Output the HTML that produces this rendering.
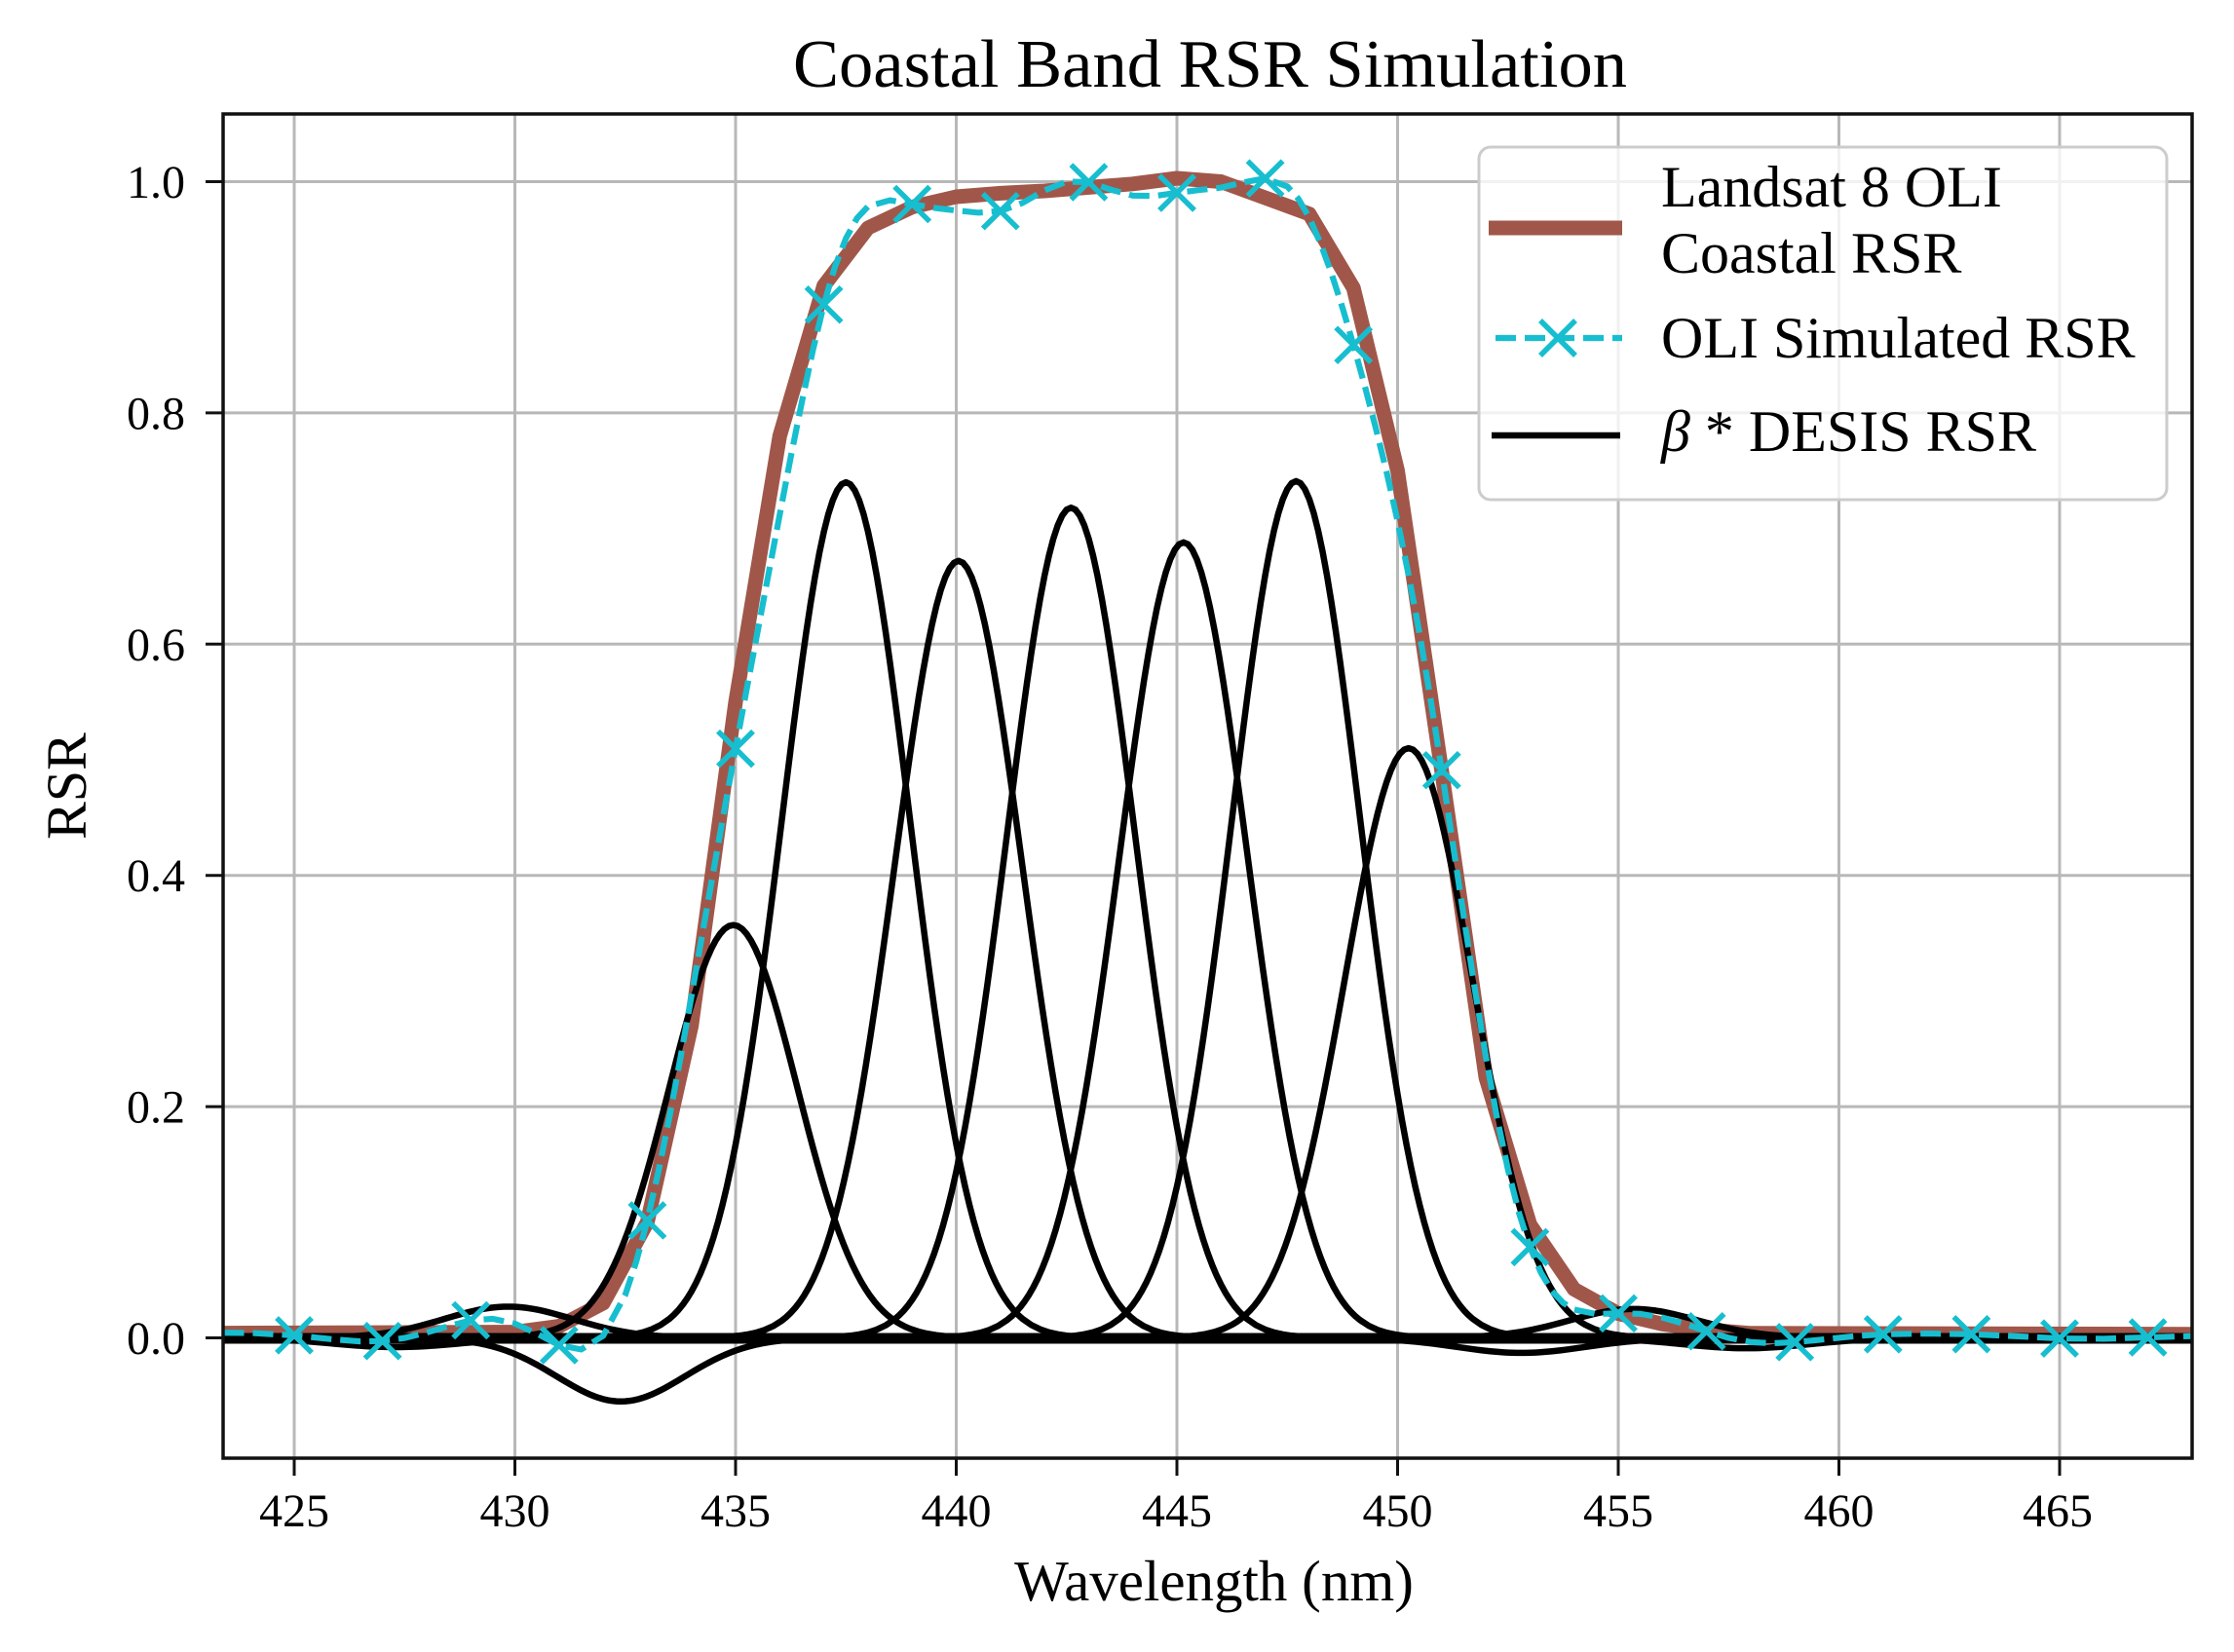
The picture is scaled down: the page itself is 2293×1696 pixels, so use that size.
<!DOCTYPE html>
<html>
<head>
<meta charset="utf-8">
<style>
html,body{margin:0;padding:0;background:#fff;}
svg{display:block;}
text{font-family:"Liberation Serif","Times New Roman",serif;fill:#000;}
</style>
</head>
<body>
<svg width="2293" height="1696" viewBox="0 0 2293 1696" xmlns="http://www.w3.org/2000/svg">
<rect x="0" y="0" width="2293" height="1696" fill="#fff"/>
<defs>
<clipPath id="clip"><rect x="229" y="117" width="2021" height="1380"/></clipPath>
</defs>

<!-- grid -->
<g stroke="#b8b8b8" stroke-width="3" clip-path="url(#clip)">
<line x1="302" y1="117" x2="302" y2="1497"/>
<line x1="528.5" y1="117" x2="528.5" y2="1497"/>
<line x1="755" y1="117" x2="755" y2="1497"/>
<line x1="981.5" y1="117" x2="981.5" y2="1497"/>
<line x1="1208" y1="117" x2="1208" y2="1497"/>
<line x1="1434.5" y1="117" x2="1434.5" y2="1497"/>
<line x1="1661" y1="117" x2="1661" y2="1497"/>
<line x1="1887.5" y1="117" x2="1887.5" y2="1497"/>
<line x1="2114" y1="117" x2="2114" y2="1497"/>
<line x1="229" y1="1373.5" x2="2250" y2="1373.5"/>
<line x1="229" y1="1136.1" x2="2250" y2="1136.1"/>
<line x1="229" y1="898.7" x2="2250" y2="898.7"/>
<line x1="229" y1="661.3" x2="2250" y2="661.3"/>
<line x1="229" y1="423.9" x2="2250" y2="423.9"/>
<line x1="229" y1="186.5" x2="2250" y2="186.5"/>
</g>

<g clip-path="url(#clip)">
<!-- Landsat brown -->
<path fill="none" stroke="#a0574a" stroke-width="15" stroke-linejoin="round" d="M166.1,1368.8L528.5,1367.6L573.8,1361.6L619.1,1337.9L664.4,1254.8L709.7,1053L755,720.7L800.3,447.6L845.6,293.3L890.9,234L936.2,212.6L981.5,202L1026.8,198.4L1072.1,196L1117.4,192.4L1162.7,188.8L1208,183L1253.3,186.5L1298.6,203.1L1343.9,219.7L1389.2,295.7L1434.5,483.3L1479.8,791.9L1525.1,1106.4L1570.4,1257.2L1615.7,1323.6L1661,1348.6L1706.3,1359.3L1751.6,1365.2L1796.9,1368.8L2340.5,1369.9"/>

<!-- zero band -->
<line x1="229" y1="1374" x2="2250" y2="1374" stroke="#000" stroke-width="11"/>

<!-- DESIS gaussians -->
<g fill="none" stroke="#000" stroke-width="6.5" stroke-linejoin="round">
<path vector-effect="non-scaling-stroke" transform="translate(406.2,1373.5) scale(45.3,9.496)" d="M-60,0L-7,0L-6,.0002L-5.6,.0006L-5.3,.0013L-5,.0026L-4.8,.0042L-4.6,.0065L-4.4,.01L-4.2,.0151L-4,.0223L-3.9,.0269L-3.8,.0323L-3.7,.0386L-3.6,.0459L-3.5,.0543L-3.4,.064L-3.3,.075L-3.2,.0876L-3.1,.1017L-3,.1176L-2.9,.1353L-2.8,.155L-2.7,.1766L-2.6,.2004L-2.5,.2262L-2.4,.2541L-2.3,.2842L-2.2,.3163L-2.1,.3504L-2,.3863L-1.9,.4238L-1.8,.4628L-1.7,.5029L-1.6,.544L-1.5,.5856L-1.4,.6275L-1.3,.6691L-1.2,.71L-1.1,.7499L-1,.7883L-.9,.8248L-.8,.8588L-.7,.89L-.6,.918L-.5,.9423L-.4,.9627L-.3,.9788L-.2,.9905L-.1,.9976L0,1L.1,.9976L.2,.9905L.3,.9788L.4,.9627L.5,.9423L.6,.918L.7,.89L.8,.8588L.9,.8248L1,.7883L1.1,.7499L1.2,.71L1.3,.6691L1.4,.6275L1.5,.5856L1.6,.544L1.7,.5029L1.8,.4628L1.9,.4238L2,.3863L2.1,.3504L2.2,.3163L2.3,.2842L2.4,.2541L2.5,.2262L2.6,.2004L2.7,.1766L2.8,.155L2.9,.1353L3,.1176L3.1,.1017L3.2,.0876L3.3,.075L3.4,.064L3.5,.0543L3.6,.0459L3.7,.0386L3.8,.0323L3.9,.0269L4,.0223L4.2,.0151L4.4,.01L4.6,.0065L4.8,.0042L5,.0026L5.3,.0013L5.6,.0006L6,.0002L7,0L60,0"/>
<path vector-effect="non-scaling-stroke" transform="translate(521.7,1373.5) scale(45.3,-32.05)" d="M-60,0L-7,0L-6,.0002L-5.6,.0006L-5.3,.0013L-5,.0026L-4.8,.0042L-4.6,.0065L-4.4,.01L-4.2,.0151L-4,.0223L-3.9,.0269L-3.8,.0323L-3.7,.0386L-3.6,.0459L-3.5,.0543L-3.4,.064L-3.3,.075L-3.2,.0876L-3.1,.1017L-3,.1176L-2.9,.1353L-2.8,.155L-2.7,.1766L-2.6,.2004L-2.5,.2262L-2.4,.2541L-2.3,.2842L-2.2,.3163L-2.1,.3504L-2,.3863L-1.9,.4238L-1.8,.4628L-1.7,.5029L-1.6,.544L-1.5,.5856L-1.4,.6275L-1.3,.6691L-1.2,.71L-1.1,.7499L-1,.7883L-.9,.8248L-.8,.8588L-.7,.89L-.6,.918L-.5,.9423L-.4,.9627L-.3,.9788L-.2,.9905L-.1,.9976L0,1L.1,.9976L.2,.9905L.3,.9788L.4,.9627L.5,.9423L.6,.918L.7,.89L.8,.8588L.9,.8248L1,.7883L1.1,.7499L1.2,.71L1.3,.6691L1.4,.6275L1.5,.5856L1.6,.544L1.7,.5029L1.8,.4628L1.9,.4238L2,.3863L2.1,.3504L2.2,.3163L2.3,.2842L2.4,.2541L2.5,.2262L2.6,.2004L2.7,.1766L2.8,.155L2.9,.1353L3,.1176L3.1,.1017L3.2,.0876L3.3,.075L3.4,.064L3.5,.0543L3.6,.0459L3.7,.0386L3.8,.0323L3.9,.0269L4,.0223L4.2,.0151L4.4,.01L4.6,.0065L4.8,.0042L5,.0026L5.3,.0013L5.6,.0006L6,.0002L7,0L60,0"/>
<path vector-effect="non-scaling-stroke" transform="translate(637.2,1373.5) scale(45.3,65.29)" d="M-60,0L-7,0L-6,.0002L-5.6,.0006L-5.3,.0013L-5,.0026L-4.8,.0042L-4.6,.0065L-4.4,.01L-4.2,.0151L-4,.0223L-3.9,.0269L-3.8,.0323L-3.7,.0386L-3.6,.0459L-3.5,.0543L-3.4,.064L-3.3,.075L-3.2,.0876L-3.1,.1017L-3,.1176L-2.9,.1353L-2.8,.155L-2.7,.1766L-2.6,.2004L-2.5,.2262L-2.4,.2541L-2.3,.2842L-2.2,.3163L-2.1,.3504L-2,.3863L-1.9,.4238L-1.8,.4628L-1.7,.5029L-1.6,.544L-1.5,.5856L-1.4,.6275L-1.3,.6691L-1.2,.71L-1.1,.7499L-1,.7883L-.9,.8248L-.8,.8588L-.7,.89L-.6,.918L-.5,.9423L-.4,.9627L-.3,.9788L-.2,.9905L-.1,.9976L0,1L.1,.9976L.2,.9905L.3,.9788L.4,.9627L.5,.9423L.6,.918L.7,.89L.8,.8588L.9,.8248L1,.7883L1.1,.7499L1.2,.71L1.3,.6691L1.4,.6275L1.5,.5856L1.6,.544L1.7,.5029L1.8,.4628L1.9,.4238L2,.3863L2.1,.3504L2.2,.3163L2.3,.2842L2.4,.2541L2.5,.2262L2.6,.2004L2.7,.1766L2.8,.155L2.9,.1353L3,.1176L3.1,.1017L3.2,.0876L3.3,.075L3.4,.064L3.5,.0543L3.6,.0459L3.7,.0386L3.8,.0323L3.9,.0269L4,.0223L4.2,.0151L4.4,.01L4.6,.0065L4.8,.0042L5,.0026L5.3,.0013L5.6,.0006L6,.0002L7,0L60,0"/>
<path vector-effect="non-scaling-stroke" transform="translate(752.7,1373.5) scale(45.3,-423.8)" d="M-60,0L-7,0L-6,.0002L-5.6,.0006L-5.3,.0013L-5,.0026L-4.8,.0042L-4.6,.0065L-4.4,.01L-4.2,.0151L-4,.0223L-3.9,.0269L-3.8,.0323L-3.7,.0386L-3.6,.0459L-3.5,.0543L-3.4,.064L-3.3,.075L-3.2,.0876L-3.1,.1017L-3,.1176L-2.9,.1353L-2.8,.155L-2.7,.1766L-2.6,.2004L-2.5,.2262L-2.4,.2541L-2.3,.2842L-2.2,.3163L-2.1,.3504L-2,.3863L-1.9,.4238L-1.8,.4628L-1.7,.5029L-1.6,.544L-1.5,.5856L-1.4,.6275L-1.3,.6691L-1.2,.71L-1.1,.7499L-1,.7883L-.9,.8248L-.8,.8588L-.7,.89L-.6,.918L-.5,.9423L-.4,.9627L-.3,.9788L-.2,.9905L-.1,.9976L0,1L.1,.9976L.2,.9905L.3,.9788L.4,.9627L.5,.9423L.6,.918L.7,.89L.8,.8588L.9,.8248L1,.7883L1.1,.7499L1.2,.71L1.3,.6691L1.4,.6275L1.5,.5856L1.6,.544L1.7,.5029L1.8,.4628L1.9,.4238L2,.3863L2.1,.3504L2.2,.3163L2.3,.2842L2.4,.2541L2.5,.2262L2.6,.2004L2.7,.1766L2.8,.155L2.9,.1353L3,.1176L3.1,.1017L3.2,.0876L3.3,.075L3.4,.064L3.5,.0543L3.6,.0459L3.7,.0386L3.8,.0323L3.9,.0269L4,.0223L4.2,.0151L4.4,.01L4.6,.0065L4.8,.0042L5,.0026L5.3,.0013L5.6,.0006L6,.0002L7,0L60,0"/>
<path vector-effect="non-scaling-stroke" transform="translate(868.3,1373.5) scale(45.3,-878.4)" d="M-60,0L-7,0L-6,.0002L-5.6,.0006L-5.3,.0013L-5,.0026L-4.8,.0042L-4.6,.0065L-4.4,.01L-4.2,.0151L-4,.0223L-3.9,.0269L-3.8,.0323L-3.7,.0386L-3.6,.0459L-3.5,.0543L-3.4,.064L-3.3,.075L-3.2,.0876L-3.1,.1017L-3,.1176L-2.9,.1353L-2.8,.155L-2.7,.1766L-2.6,.2004L-2.5,.2262L-2.4,.2541L-2.3,.2842L-2.2,.3163L-2.1,.3504L-2,.3863L-1.9,.4238L-1.8,.4628L-1.7,.5029L-1.6,.544L-1.5,.5856L-1.4,.6275L-1.3,.6691L-1.2,.71L-1.1,.7499L-1,.7883L-.9,.8248L-.8,.8588L-.7,.89L-.6,.918L-.5,.9423L-.4,.9627L-.3,.9788L-.2,.9905L-.1,.9976L0,1L.1,.9976L.2,.9905L.3,.9788L.4,.9627L.5,.9423L.6,.918L.7,.89L.8,.8588L.9,.8248L1,.7883L1.1,.7499L1.2,.71L1.3,.6691L1.4,.6275L1.5,.5856L1.6,.544L1.7,.5029L1.8,.4628L1.9,.4238L2,.3863L2.1,.3504L2.2,.3163L2.3,.2842L2.4,.2541L2.5,.2262L2.6,.2004L2.7,.1766L2.8,.155L2.9,.1353L3,.1176L3.1,.1017L3.2,.0876L3.3,.075L3.4,.064L3.5,.0543L3.6,.0459L3.7,.0386L3.8,.0323L3.9,.0269L4,.0223L4.2,.0151L4.4,.01L4.6,.0065L4.8,.0042L5,.0026L5.3,.0013L5.6,.0006L6,.0002L7,0L60,0"/>
<path vector-effect="non-scaling-stroke" transform="translate(983.8,1373.5) scale(45.3,-797.7)" d="M-60,0L-7,0L-6,.0002L-5.6,.0006L-5.3,.0013L-5,.0026L-4.8,.0042L-4.6,.0065L-4.4,.01L-4.2,.0151L-4,.0223L-3.9,.0269L-3.8,.0323L-3.7,.0386L-3.6,.0459L-3.5,.0543L-3.4,.064L-3.3,.075L-3.2,.0876L-3.1,.1017L-3,.1176L-2.9,.1353L-2.8,.155L-2.7,.1766L-2.6,.2004L-2.5,.2262L-2.4,.2541L-2.3,.2842L-2.2,.3163L-2.1,.3504L-2,.3863L-1.9,.4238L-1.8,.4628L-1.7,.5029L-1.6,.544L-1.5,.5856L-1.4,.6275L-1.3,.6691L-1.2,.71L-1.1,.7499L-1,.7883L-.9,.8248L-.8,.8588L-.7,.89L-.6,.918L-.5,.9423L-.4,.9627L-.3,.9788L-.2,.9905L-.1,.9976L0,1L.1,.9976L.2,.9905L.3,.9788L.4,.9627L.5,.9423L.6,.918L.7,.89L.8,.8588L.9,.8248L1,.7883L1.1,.7499L1.2,.71L1.3,.6691L1.4,.6275L1.5,.5856L1.6,.544L1.7,.5029L1.8,.4628L1.9,.4238L2,.3863L2.1,.3504L2.2,.3163L2.3,.2842L2.4,.2541L2.5,.2262L2.6,.2004L2.7,.1766L2.8,.155L2.9,.1353L3,.1176L3.1,.1017L3.2,.0876L3.3,.075L3.4,.064L3.5,.0543L3.6,.0459L3.7,.0386L3.8,.0323L3.9,.0269L4,.0223L4.2,.0151L4.4,.01L4.6,.0065L4.8,.0042L5,.0026L5.3,.0013L5.6,.0006L6,.0002L7,0L60,0"/>
<path vector-effect="non-scaling-stroke" transform="translate(1099.3,1373.5) scale(45.3,-852.3)" d="M-60,0L-7,0L-6,.0002L-5.6,.0006L-5.3,.0013L-5,.0026L-4.8,.0042L-4.6,.0065L-4.4,.01L-4.2,.0151L-4,.0223L-3.9,.0269L-3.8,.0323L-3.7,.0386L-3.6,.0459L-3.5,.0543L-3.4,.064L-3.3,.075L-3.2,.0876L-3.1,.1017L-3,.1176L-2.9,.1353L-2.8,.155L-2.7,.1766L-2.6,.2004L-2.5,.2262L-2.4,.2541L-2.3,.2842L-2.2,.3163L-2.1,.3504L-2,.3863L-1.9,.4238L-1.8,.4628L-1.7,.5029L-1.6,.544L-1.5,.5856L-1.4,.6275L-1.3,.6691L-1.2,.71L-1.1,.7499L-1,.7883L-.9,.8248L-.8,.8588L-.7,.89L-.6,.918L-.5,.9423L-.4,.9627L-.3,.9788L-.2,.9905L-.1,.9976L0,1L.1,.9976L.2,.9905L.3,.9788L.4,.9627L.5,.9423L.6,.918L.7,.89L.8,.8588L.9,.8248L1,.7883L1.1,.7499L1.2,.71L1.3,.6691L1.4,.6275L1.5,.5856L1.6,.544L1.7,.5029L1.8,.4628L1.9,.4238L2,.3863L2.1,.3504L2.2,.3163L2.3,.2842L2.4,.2541L2.5,.2262L2.6,.2004L2.7,.1766L2.8,.155L2.9,.1353L3,.1176L3.1,.1017L3.2,.0876L3.3,.075L3.4,.064L3.5,.0543L3.6,.0459L3.7,.0386L3.8,.0323L3.9,.0269L4,.0223L4.2,.0151L4.4,.01L4.6,.0065L4.8,.0042L5,.0026L5.3,.0013L5.6,.0006L6,.0002L7,0L60,0"/>
<path vector-effect="non-scaling-stroke" transform="translate(1214.8,1373.5) scale(45.3,-816.7)" d="M-60,0L-7,0L-6,.0002L-5.6,.0006L-5.3,.0013L-5,.0026L-4.8,.0042L-4.6,.0065L-4.4,.01L-4.2,.0151L-4,.0223L-3.9,.0269L-3.8,.0323L-3.7,.0386L-3.6,.0459L-3.5,.0543L-3.4,.064L-3.3,.075L-3.2,.0876L-3.1,.1017L-3,.1176L-2.9,.1353L-2.8,.155L-2.7,.1766L-2.6,.2004L-2.5,.2262L-2.4,.2541L-2.3,.2842L-2.2,.3163L-2.1,.3504L-2,.3863L-1.9,.4238L-1.8,.4628L-1.7,.5029L-1.6,.544L-1.5,.5856L-1.4,.6275L-1.3,.6691L-1.2,.71L-1.1,.7499L-1,.7883L-.9,.8248L-.8,.8588L-.7,.89L-.6,.918L-.5,.9423L-.4,.9627L-.3,.9788L-.2,.9905L-.1,.9976L0,1L.1,.9976L.2,.9905L.3,.9788L.4,.9627L.5,.9423L.6,.918L.7,.89L.8,.8588L.9,.8248L1,.7883L1.1,.7499L1.2,.71L1.3,.6691L1.4,.6275L1.5,.5856L1.6,.544L1.7,.5029L1.8,.4628L1.9,.4238L2,.3863L2.1,.3504L2.2,.3163L2.3,.2842L2.4,.2541L2.5,.2262L2.6,.2004L2.7,.1766L2.8,.155L2.9,.1353L3,.1176L3.1,.1017L3.2,.0876L3.3,.075L3.4,.064L3.5,.0543L3.6,.0459L3.7,.0386L3.8,.0323L3.9,.0269L4,.0223L4.2,.0151L4.4,.01L4.6,.0065L4.8,.0042L5,.0026L5.3,.0013L5.6,.0006L6,.0002L7,0L60,0"/>
<path vector-effect="non-scaling-stroke" transform="translate(1330.3,1373.5) scale(45.3,-879.6)" d="M-60,0L-7,0L-6,.0002L-5.6,.0006L-5.3,.0013L-5,.0026L-4.8,.0042L-4.6,.0065L-4.4,.01L-4.2,.0151L-4,.0223L-3.9,.0269L-3.8,.0323L-3.7,.0386L-3.6,.0459L-3.5,.0543L-3.4,.064L-3.3,.075L-3.2,.0876L-3.1,.1017L-3,.1176L-2.9,.1353L-2.8,.155L-2.7,.1766L-2.6,.2004L-2.5,.2262L-2.4,.2541L-2.3,.2842L-2.2,.3163L-2.1,.3504L-2,.3863L-1.9,.4238L-1.8,.4628L-1.7,.5029L-1.6,.544L-1.5,.5856L-1.4,.6275L-1.3,.6691L-1.2,.71L-1.1,.7499L-1,.7883L-.9,.8248L-.8,.8588L-.7,.89L-.6,.918L-.5,.9423L-.4,.9627L-.3,.9788L-.2,.9905L-.1,.9976L0,1L.1,.9976L.2,.9905L.3,.9788L.4,.9627L.5,.9423L.6,.918L.7,.89L.8,.8588L.9,.8248L1,.7883L1.1,.7499L1.2,.71L1.3,.6691L1.4,.6275L1.5,.5856L1.6,.544L1.7,.5029L1.8,.4628L1.9,.4238L2,.3863L2.1,.3504L2.2,.3163L2.3,.2842L2.4,.2541L2.5,.2262L2.6,.2004L2.7,.1766L2.8,.155L2.9,.1353L3,.1176L3.1,.1017L3.2,.0876L3.3,.075L3.4,.064L3.5,.0543L3.6,.0459L3.7,.0386L3.8,.0323L3.9,.0269L4,.0223L4.2,.0151L4.4,.01L4.6,.0065L4.8,.0042L5,.0026L5.3,.0013L5.6,.0006L6,.0002L7,0L60,0"/>
<path vector-effect="non-scaling-stroke" transform="translate(1445.8,1373.5) scale(45.3,-605.4)" d="M-60,0L-7,0L-6,.0002L-5.6,.0006L-5.3,.0013L-5,.0026L-4.8,.0042L-4.6,.0065L-4.4,.01L-4.2,.0151L-4,.0223L-3.9,.0269L-3.8,.0323L-3.7,.0386L-3.6,.0459L-3.5,.0543L-3.4,.064L-3.3,.075L-3.2,.0876L-3.1,.1017L-3,.1176L-2.9,.1353L-2.8,.155L-2.7,.1766L-2.6,.2004L-2.5,.2262L-2.4,.2541L-2.3,.2842L-2.2,.3163L-2.1,.3504L-2,.3863L-1.9,.4238L-1.8,.4628L-1.7,.5029L-1.6,.544L-1.5,.5856L-1.4,.6275L-1.3,.6691L-1.2,.71L-1.1,.7499L-1,.7883L-.9,.8248L-.8,.8588L-.7,.89L-.6,.918L-.5,.9423L-.4,.9627L-.3,.9788L-.2,.9905L-.1,.9976L0,1L.1,.9976L.2,.9905L.3,.9788L.4,.9627L.5,.9423L.6,.918L.7,.89L.8,.8588L.9,.8248L1,.7883L1.1,.7499L1.2,.71L1.3,.6691L1.4,.6275L1.5,.5856L1.6,.544L1.7,.5029L1.8,.4628L1.9,.4238L2,.3863L2.1,.3504L2.2,.3163L2.3,.2842L2.4,.2541L2.5,.2262L2.6,.2004L2.7,.1766L2.8,.155L2.9,.1353L3,.1176L3.1,.1017L3.2,.0876L3.3,.075L3.4,.064L3.5,.0543L3.6,.0459L3.7,.0386L3.8,.0323L3.9,.0269L4,.0223L4.2,.0151L4.4,.01L4.6,.0065L4.8,.0042L5,.0026L5.3,.0013L5.6,.0006L6,.0002L7,0L60,0"/>
<path vector-effect="non-scaling-stroke" transform="translate(1561.4,1373.5) scale(45.3,15.43)" d="M-60,0L-7,0L-6,.0002L-5.6,.0006L-5.3,.0013L-5,.0026L-4.8,.0042L-4.6,.0065L-4.4,.01L-4.2,.0151L-4,.0223L-3.9,.0269L-3.8,.0323L-3.7,.0386L-3.6,.0459L-3.5,.0543L-3.4,.064L-3.3,.075L-3.2,.0876L-3.1,.1017L-3,.1176L-2.9,.1353L-2.8,.155L-2.7,.1766L-2.6,.2004L-2.5,.2262L-2.4,.2541L-2.3,.2842L-2.2,.3163L-2.1,.3504L-2,.3863L-1.9,.4238L-1.8,.4628L-1.7,.5029L-1.6,.544L-1.5,.5856L-1.4,.6275L-1.3,.6691L-1.2,.71L-1.1,.7499L-1,.7883L-.9,.8248L-.8,.8588L-.7,.89L-.6,.918L-.5,.9423L-.4,.9627L-.3,.9788L-.2,.9905L-.1,.9976L0,1L.1,.9976L.2,.9905L.3,.9788L.4,.9627L.5,.9423L.6,.918L.7,.89L.8,.8588L.9,.8248L1,.7883L1.1,.7499L1.2,.71L1.3,.6691L1.4,.6275L1.5,.5856L1.6,.544L1.7,.5029L1.8,.4628L1.9,.4238L2,.3863L2.1,.3504L2.2,.3163L2.3,.2842L2.4,.2541L2.5,.2262L2.6,.2004L2.7,.1766L2.8,.155L2.9,.1353L3,.1176L3.1,.1017L3.2,.0876L3.3,.075L3.4,.064L3.5,.0543L3.6,.0459L3.7,.0386L3.8,.0323L3.9,.0269L4,.0223L4.2,.0151L4.4,.01L4.6,.0065L4.8,.0042L5,.0026L5.3,.0013L5.6,.0006L6,.0002L7,0L60,0"/>
<path vector-effect="non-scaling-stroke" transform="translate(1676.9,1373.5) scale(45.3,-29.68)" d="M-60,0L-7,0L-6,.0002L-5.6,.0006L-5.3,.0013L-5,.0026L-4.8,.0042L-4.6,.0065L-4.4,.01L-4.2,.0151L-4,.0223L-3.9,.0269L-3.8,.0323L-3.7,.0386L-3.6,.0459L-3.5,.0543L-3.4,.064L-3.3,.075L-3.2,.0876L-3.1,.1017L-3,.1176L-2.9,.1353L-2.8,.155L-2.7,.1766L-2.6,.2004L-2.5,.2262L-2.4,.2541L-2.3,.2842L-2.2,.3163L-2.1,.3504L-2,.3863L-1.9,.4238L-1.8,.4628L-1.7,.5029L-1.6,.544L-1.5,.5856L-1.4,.6275L-1.3,.6691L-1.2,.71L-1.1,.7499L-1,.7883L-.9,.8248L-.8,.8588L-.7,.89L-.6,.918L-.5,.9423L-.4,.9627L-.3,.9788L-.2,.9905L-.1,.9976L0,1L.1,.9976L.2,.9905L.3,.9788L.4,.9627L.5,.9423L.6,.918L.7,.89L.8,.8588L.9,.8248L1,.7883L1.1,.7499L1.2,.71L1.3,.6691L1.4,.6275L1.5,.5856L1.6,.544L1.7,.5029L1.8,.4628L1.9,.4238L2,.3863L2.1,.3504L2.2,.3163L2.3,.2842L2.4,.2541L2.5,.2262L2.6,.2004L2.7,.1766L2.8,.155L2.9,.1353L3,.1176L3.1,.1017L3.2,.0876L3.3,.075L3.4,.064L3.5,.0543L3.6,.0459L3.7,.0386L3.8,.0323L3.9,.0269L4,.0223L4.2,.0151L4.4,.01L4.6,.0065L4.8,.0042L5,.0026L5.3,.0013L5.6,.0006L6,.0002L7,0L60,0"/>
<path vector-effect="non-scaling-stroke" transform="translate(1792.4,1373.5) scale(45.3,10.68)" d="M-60,0L-7,0L-6,.0002L-5.6,.0006L-5.3,.0013L-5,.0026L-4.8,.0042L-4.6,.0065L-4.4,.01L-4.2,.0151L-4,.0223L-3.9,.0269L-3.8,.0323L-3.7,.0386L-3.6,.0459L-3.5,.0543L-3.4,.064L-3.3,.075L-3.2,.0876L-3.1,.1017L-3,.1176L-2.9,.1353L-2.8,.155L-2.7,.1766L-2.6,.2004L-2.5,.2262L-2.4,.2541L-2.3,.2842L-2.2,.3163L-2.1,.3504L-2,.3863L-1.9,.4238L-1.8,.4628L-1.7,.5029L-1.6,.544L-1.5,.5856L-1.4,.6275L-1.3,.6691L-1.2,.71L-1.1,.7499L-1,.7883L-.9,.8248L-.8,.8588L-.7,.89L-.6,.918L-.5,.9423L-.4,.9627L-.3,.9788L-.2,.9905L-.1,.9976L0,1L.1,.9976L.2,.9905L.3,.9788L.4,.9627L.5,.9423L.6,.918L.7,.89L.8,.8588L.9,.8248L1,.7883L1.1,.7499L1.2,.71L1.3,.6691L1.4,.6275L1.5,.5856L1.6,.544L1.7,.5029L1.8,.4628L1.9,.4238L2,.3863L2.1,.3504L2.2,.3163L2.3,.2842L2.4,.2541L2.5,.2262L2.6,.2004L2.7,.1766L2.8,.155L2.9,.1353L3,.1176L3.1,.1017L3.2,.0876L3.3,.075L3.4,.064L3.5,.0543L3.6,.0459L3.7,.0386L3.8,.0323L3.9,.0269L4,.0223L4.2,.0151L4.4,.01L4.6,.0065L4.8,.0042L5,.0026L5.3,.0013L5.6,.0006L6,.0002L7,0L60,0"/>
</g>

<g transform="translate(0,13.735) scale(1,0.99)">
<!-- OLI simulated cyan dashed -->
<path fill="none" stroke="#17becf" stroke-width="6.2" stroke-dasharray="21 9" stroke-linejoin="round" d="M229.5,1368.2L256.7,1368.4L302,1370.9L347.3,1375.5L370,1377.2L392.6,1376.8L415.3,1373.6L437.9,1368L460.6,1361.3L483.2,1355.3L505.9,1353.8L528.5,1358.7L551.2,1369.2L573.8,1381.1L596.5,1385.5L619.1,1371.4L641.8,1328.8L653.1,1294.3L664.4,1251.7L675.7,1201.4L687.1,1144.5L698.4,1083.2L709.7,1019.2L721,953.9L732.4,888.7L743.7,824.9L755,762.5L766.3,701.4L777.7,640.6L789,580.2L800.3,519.9L811.6,460.3L823,403.2L834.3,349.6L845.6,302L856.9,262.9L868.3,233.3L879.6,212.5L890.9,200.2L913.6,193.8L936.2,197.8L958.9,201.7L981.5,204.4L1004.2,206.7L1026.8,205L1049.5,196.6L1072.1,183.6L1094.8,174.5L1117.4,175L1140.1,182.8L1162.7,189L1185.4,189.3L1208,186.1L1230.7,183.2L1253.3,180.7L1276,175.3L1298.6,171.1L1321.3,179.5L1332.6,192.2L1343.9,211.9L1355.2,238.1L1366.6,269.5L1377.9,305.1L1389.2,343.9L1400.5,385.2L1411.9,429.1L1423.2,475.6L1434.5,526.5L1445.8,582.5L1457.2,644L1468.5,712.2L1479.8,784.8L1491.1,860.5L1502.5,937.2L1513.8,1011.7L1525.1,1081.7L1536.4,1144.6L1547.8,1199L1559.1,1244L1570.4,1279.4L1581.7,1306L1593.1,1325.1L1604.4,1337.1L1615.7,1344.1L1638.4,1348.7L1661,1348.1L1683.7,1348.6L1706.3,1352.5L1729,1359L1751.6,1366.7L1774.3,1373.5L1796.9,1377.8L1819.6,1379.1L1842.2,1377.9L1864.9,1375.8L1887.5,1373.4L1910.2,1371.2L1932.8,1369.8L1978.1,1369L2023.4,1369.7L2068.7,1371.8L2114,1374.1L2159.3,1374.4L2204.6,1373L2249.9,1371.7"/>

<!-- x markers -->
<path fill="none" stroke="#17becf" stroke-width="5.5" d="M284,1352.9l36,36m0,-36l-36,36M374.6,1358.8l36,36m0,-36l-36,36M465.2,1337.3l36,36m0,-36l-36,36M555.8,1363.1l36,36m0,-36l-36,36M646.4,1233.7l36,36m0,-36l-36,36M737,744.5l36,36m0,-36l-36,36M827.6,284l36,36m0,-36l-36,36M918.2,179.8l36,36m0,-36l-36,36M1008.8,187l36,36m0,-36l-36,36M1099.4,157l36,36m0,-36l-36,36M1190,168.1l36,36m0,-36l-36,36M1280.6,153.1l36,36m0,-36l-36,36M1371.2,325.9l36,36m0,-36l-36,36M1461.8,766.8l36,36m0,-36l-36,36M1552.4,1261.4l36,36m0,-36l-36,36M1643,1330.1l36,36m0,-36l-36,36M1733.6,1348.7l36,36m0,-36l-36,36M1824.2,1359.9l36,36m0,-36l-36,36M1914.8,1351.8l36,36m0,-36l-36,36M2005.4,1351.7l36,36m0,-36l-36,36M2096,1356.1l36,36m0,-36l-36,36M2186.6,1355l36,36m0,-36l-36,36"/>
</g>
</g>

<!-- spines -->
<rect x="229" y="117" width="2021" height="1380" fill="none" stroke="#111" stroke-width="3.5"/>

<!-- ticks -->
<g stroke="#111" stroke-width="3">
<line x1="302" y1="1497" x2="302" y2="1515"/>
<line x1="528.5" y1="1497" x2="528.5" y2="1515"/>
<line x1="755" y1="1497" x2="755" y2="1515"/>
<line x1="981.5" y1="1497" x2="981.5" y2="1515"/>
<line x1="1208" y1="1497" x2="1208" y2="1515"/>
<line x1="1434.5" y1="1497" x2="1434.5" y2="1515"/>
<line x1="1661" y1="1497" x2="1661" y2="1515"/>
<line x1="1887.5" y1="1497" x2="1887.5" y2="1515"/>
<line x1="2114" y1="1497" x2="2114" y2="1515"/>
<line x1="211" y1="1373.5" x2="229" y2="1373.5"/>
<line x1="211" y1="1136.1" x2="229" y2="1136.1"/>
<line x1="211" y1="898.7" x2="229" y2="898.7"/>
<line x1="211" y1="661.3" x2="229" y2="661.3"/>
<line x1="211" y1="423.9" x2="229" y2="423.9"/>
<line x1="211" y1="186.5" x2="229" y2="186.5"/>
</g>

<!-- tick labels -->
<g font-size="48" text-anchor="middle">
<text x="302" y="1567">425</text>
<text x="528.5" y="1567">430</text>
<text x="755" y="1567">435</text>
<text x="981.5" y="1567">440</text>
<text x="1208" y="1567">445</text>
<text x="1434.5" y="1567">450</text>
<text x="1661" y="1567">455</text>
<text x="1887.5" y="1567">460</text>
<text x="2112" y="1567">465</text>
</g>
<g font-size="48" text-anchor="end">
<text x="190" y="1390">0.0</text>
<text x="190" y="1152.6">0.2</text>
<text x="190" y="915.2">0.4</text>
<text x="190" y="677.8">0.6</text>
<text x="190" y="440.4">0.8</text>
<text x="190" y="203">1.0</text>
</g>

<!-- labels -->
<text x="1242" y="89" font-size="70" text-anchor="middle" textLength="856" lengthAdjust="spacingAndGlyphs">Coastal Band RSR Simulation</text>
<text x="1246" y="1643" font-size="59" text-anchor="middle">Wavelength (nm)</text>
<text transform="translate(88,807) rotate(-90)" font-size="58" text-anchor="middle">RSR</text>

<!-- legend -->
<rect x="1518" y="151" width="706" height="362" rx="12" ry="12" fill="#fff" fill-opacity="0.8" stroke="#cccccc" stroke-width="3"/>
<line x1="1528" y1="234" x2="1665" y2="234" stroke="#a0574a" stroke-width="15"/>
<line x1="1535" y1="347" x2="1665" y2="347" stroke="#17becf" stroke-width="6.2" stroke-dasharray="21 9"/>
<g stroke="#17becf" stroke-width="5.5">
<line x1="1581" y1="329" x2="1617" y2="365"/>
<line x1="1581" y1="365" x2="1617" y2="329"/>
</g>
<line x1="1531" y1="447" x2="1663" y2="447" stroke="#000" stroke-width="6.5"/>
<g font-size="60">
<text x="1705" y="212">Landsat 8 OLI</text>
<text x="1705" y="280">Coastal RSR</text>
<text x="1705" y="367">OLI Simulated RSR</text>
<text x="1705" y="463"><tspan font-style="italic">β</tspan> * DESIS RSR</text>
</g>
</svg>
</body>
</html>
